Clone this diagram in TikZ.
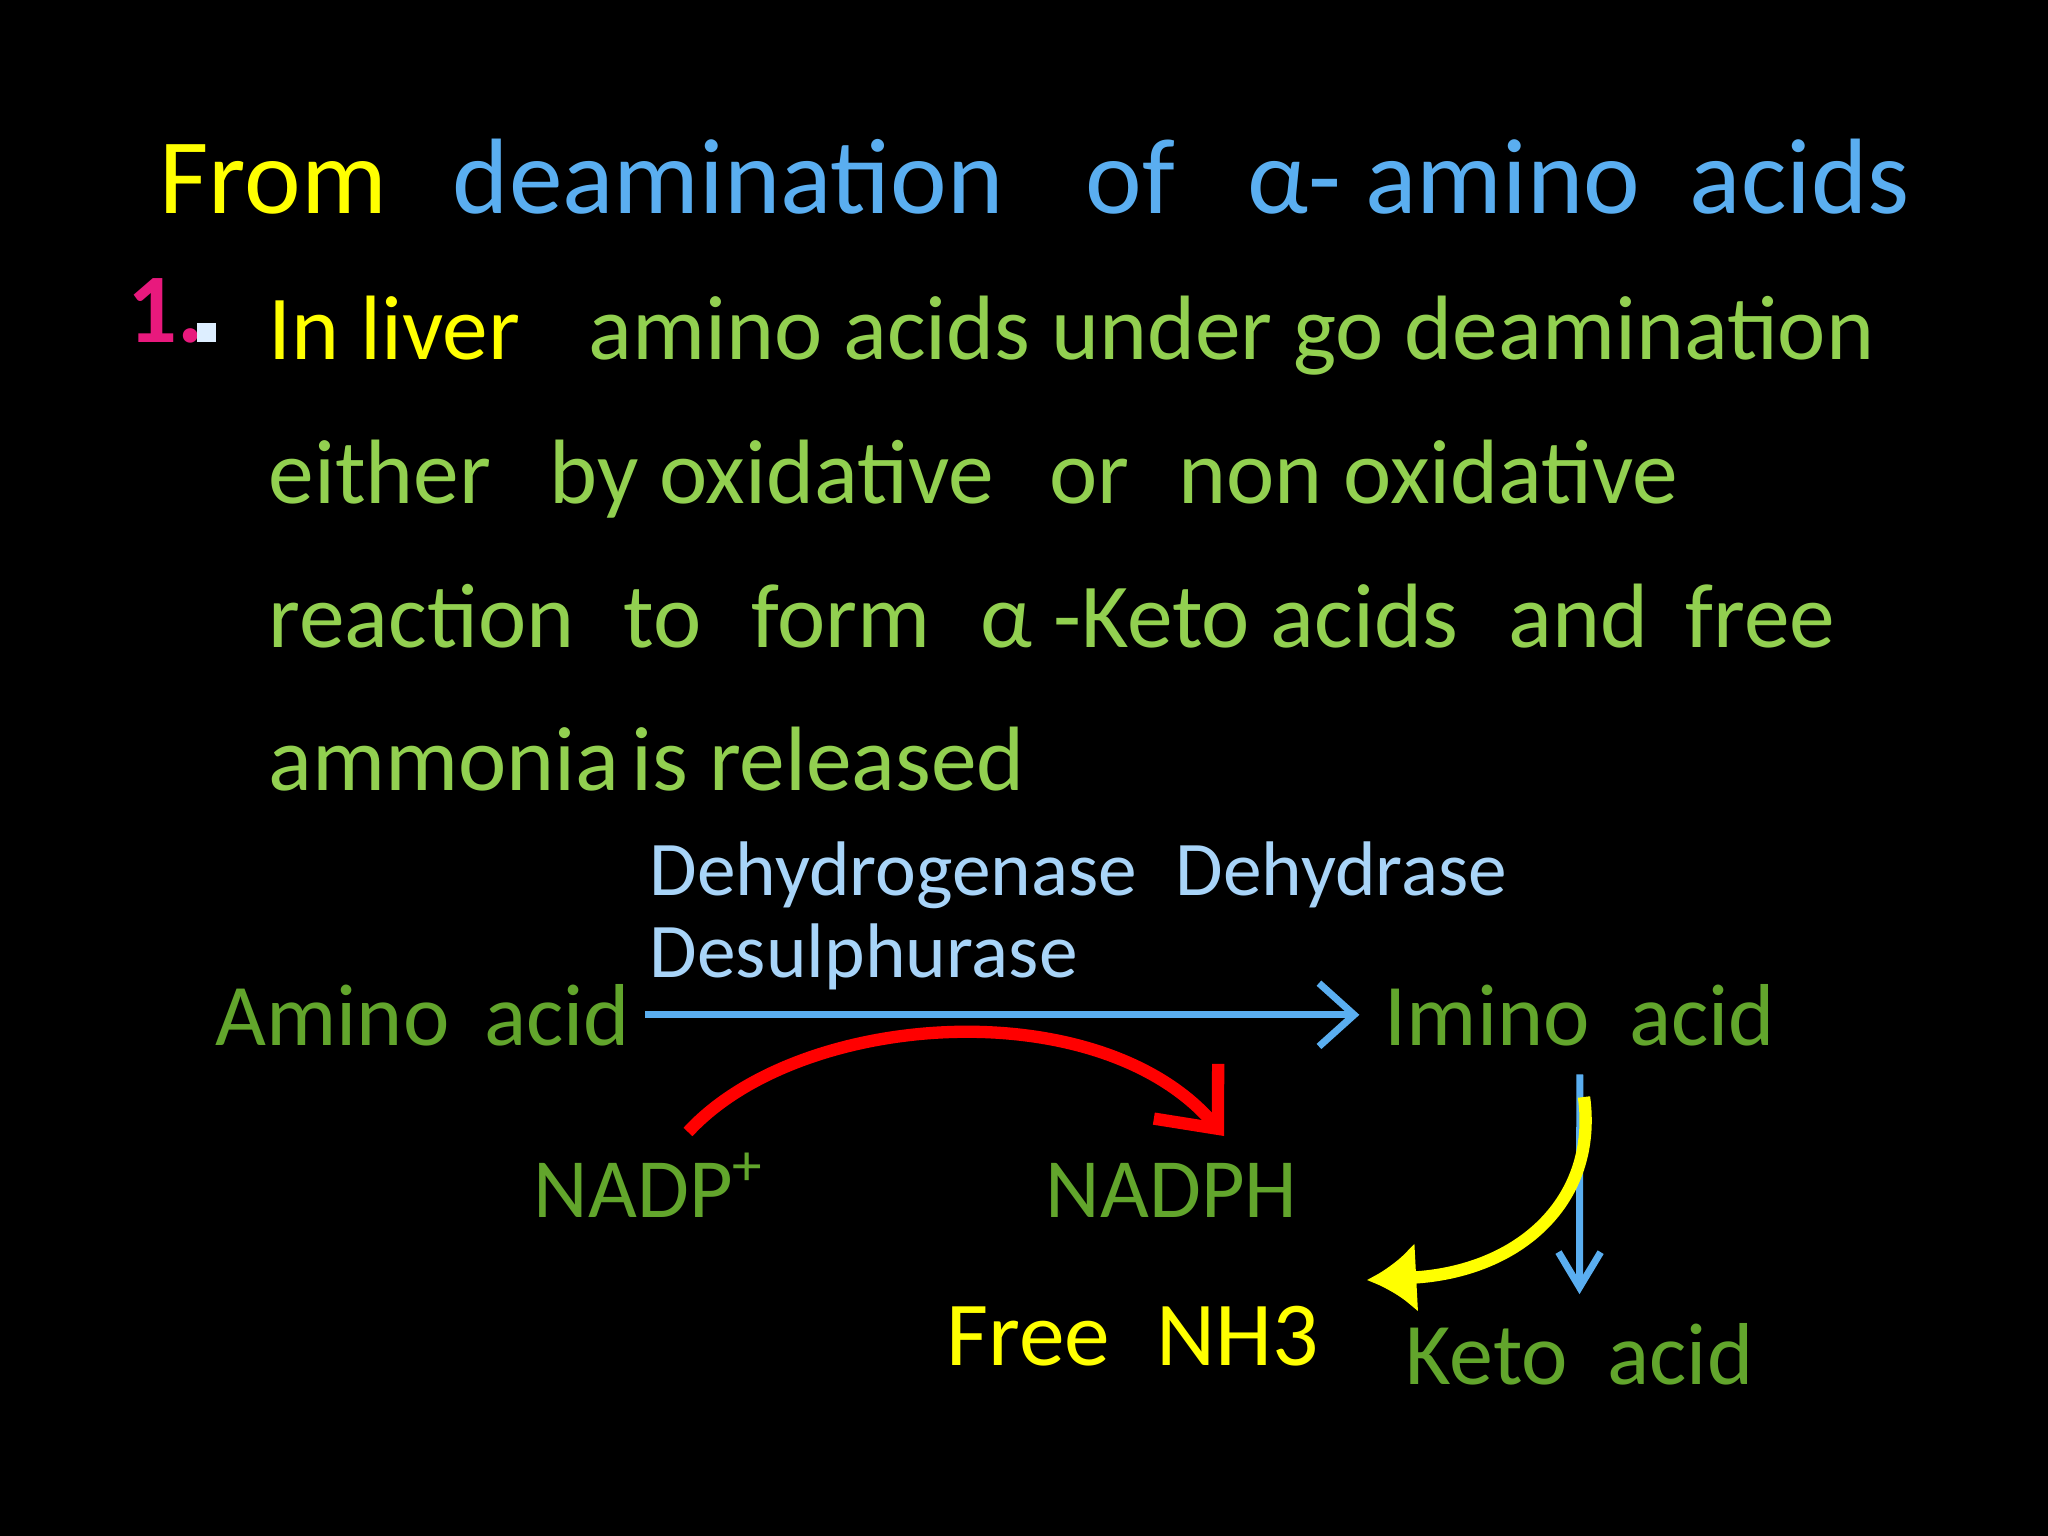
\documentclass[tikz,border=0pt]{standalone}
\usepackage{fontspec}
\setmainfont{Carlito}
\usetikzlibrary{arrows.meta}
\definecolor{ttlyellow}{HTML}{FFFF00}
\definecolor{ttlblue}{HTML}{5AAEF0}
\definecolor{txtgreen}{HTML}{92D050}
\definecolor{dkgreen}{HTML}{62A52C}
\definecolor{enzblue}{HTML}{A8D4F8}
\definecolor{numpink}{HTML}{E8197D}
\definecolor{bulblue}{HTML}{DDEEFF}
\tikzset{
  ttl/.style={font=\fontsize{30.5}{36}\selectfont},
  body/.style={font=\fontsize{26}{32}\selectfont, text=txtgreen},
  enz/.style={font=\fontsize{22}{26}\selectfont, text=enzblue},
  chem/.style={font=\fontsize{25}{30}\selectfont, text=dkgreen},
}
\begin{document}
\begin{tikzpicture}[x=0.01cm, y=0.01cm]
			\tikzstyle{every node}+=[inner sep=0pt, anchor=base west]
			\fill [black] (0,0) rectangle (2048,-1536);
			% title
			\node [ttl, text=ttlyellow] (tFrom) at (159,-213) {From};
			\node [ttl, text=ttlblue] (tDeam) at (452,-213) {deamination};
			\node [ttl, text=ttlblue] (tOf) at (1085,-213) {of};
			\node [ttl, text=ttlblue] (tAmino) at (1247,-213) {α- amino};
			\node [ttl, text=ttlblue] (tAcids) at (1689,-213) {acids};
			% point 1
			\node [font=\bfseries\fontsize{28}{32}\selectfont, text=numpink] (num) at (127,-342) {1.};
			\fill [bulblue] (197,-323) rectangle (216,-342);
			\node [body, text=ttlyellow] (aLiver) at (268,-359) {In liver};
			\node [body] (aAmino) at (588,-359) {amino acids under go};
			\node [body] (aDeam) at (1404,-359) {deamination};
			\node [body] (bEither) at (268,-503) {either};
			\node [body] (bOxid) at (549,-503) {by oxidative};
			\node [body] (bOr) at (1049,-503) {or};
			\node [body] (bNon) at (1178,-503) {non oxidative};
			\node [body] (cReact) at (268,-647) {reaction};
			\node [body] (cTo) at (623,-647) {to};
			\node [body] (cForm) at (751,-647) {form};
			\node [body] (cKeto) at (980,-647) {α -Keto acids};
			\node [body] (cAnd) at (1508,-647) {and};
			\node [body] (cFree) at (1685,-647) {free};
			\node [body] (dAmmo) at (268,-790) {ammonia};
			\node [body] (dRel) at (631,-790) {is released};
			% reaction
			\node [enz] (enzA) at (649,-895) {Dehydrogenase};
			\node [enz] (enzB) at (1175,-895) {Dehydrase};
			\node [enz] (enzC) at (649,-977) {Desulphurase};
			\node [chem] (amino) at (215,-1045) {Amino\hspace{0.4em}acid};
			\node [chem] (imino) at (1384,-1045) {Imino\hspace{0.45em}acid};
			\node [chem, font=\fontsize{24}{28}\selectfont] (nadp) at (533,-1217) {NADP\textsuperscript{+}};
			\node [chem, font=\fontsize{24}{28}\selectfont] (nadph) at (1045,-1217) {NADPH};
			\node [font=\fontsize{26}{30}\selectfont, text=ttlyellow] (nh3) at (946,-1365) {Free\hspace{0.5em}NH3};
			\node [chem] (keto) at (1405,-1384) {Keto\hspace{0.45em}acid};
			\coordinate (redS) at (688,-1132);
			\coordinate (redE) at (1224,-1136);
			\coordinate (ylwS) at (1584,-1097);
			\coordinate (ylwE) at (1367,-1280);
			\draw [ttlblue, line width=2pt, -{Straight Barb[length=10pt,width=18pt]}, shorten <=4pt, shorten >=7pt] (amino.east) -- (imino.west);
			\draw [red, line width=3.5pt, -{Straight Barb[length=14pt,width=24pt]}] (redS) .. controls (800,-1010) and (1100,-990) .. (redE);
			\draw [ttlblue, line width=2pt, -{Straight Barb[length=10pt,width=12pt]}, shorten <=8pt, shorten >=8pt] (imino.south) -- (keto.north);
			\draw [ttlyellow, line width=3.5pt, -{Latex[length=14pt,width=20pt]}] (ylwS) .. controls (1598,-1200) and (1520,-1272) .. (ylwE);
		\end{tikzpicture}
\end{document}
